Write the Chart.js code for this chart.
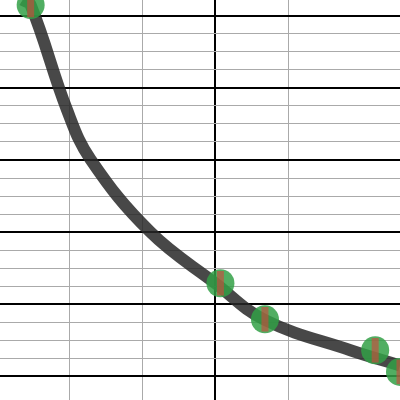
<!DOCTYPE html>
<html>
<head>
<script src="https://cdn.jsdelivr.net/npm/chart.js@4"></script>
<style>html,body{margin:0;padding:0;background:#fff}#c{width:400px;height:400px}</style>
</head>
<body>
<div id="c"><canvas id="chart"></canvas></div>
<script>
// curva
const curvaX = [-2.64, -2.53, -2.03, -1.71, -0.89, 0, 0.68, 1.85, 2.53];
const curvaY = [3.22, 3.15, 1.69, 1.01, 0, -0.71, -1.22, -1.64, -1.85];
// pontos medidos
const pontosX = [-2.53, 0.07, 0.68, 2.19, 2.53];
const pontosY = [3.15, -0.71, -1.21, -1.64, -1.94];
const erro = [0.17, 0.17, 0.17, 0.17, 0.17];

const multiplo = (v, s) => Math.abs(v / s - Math.round(v / s)) < 1e-6;

const barrasErro = {
  id: 'barrasErro',
  afterDatasetsDraw(chart) {
    const { ctx, scales: { x, y } } = chart;
    ctx.save();
    ctx.strokeStyle = 'rgba(210,70,60,0.6)';
    ctx.lineWidth = 7;
    pontosX.forEach((px, i) => {
      ctx.beginPath();
      ctx.moveTo(x.getPixelForValue(px), y.getPixelForValue(pontosY[i] + erro[i]));
      ctx.lineTo(x.getPixelForValue(px), y.getPixelForValue(pontosY[i] - erro[i]));
      ctx.stroke();
    });
    ctx.restore();
  }
};

new Chart(document.getElementById('chart'), {
  type: 'scatter',
  plugins: [barrasErro],
  data: {
    datasets: [
      {
        data: pontosX.map((v, i) => ({ x: v, y: pontosY[i] })),
        pointRadius: 14, pointHoverRadius: 14,
        backgroundColor: 'rgba(50,160,70,0.85)', borderWidth: 0
      },
      {
        type: 'line',
        data: curvaX.map((v, i) => ({ x: v, y: curvaY[i] })),
        borderColor: 'rgba(40,40,40,0.85)', borderWidth: 12,
        pointRadius: 0, tension: 0.4, fill: false
      }
    ]
  },
  options: {
    responsive: true, maintainAspectRatio: false, animation: false,
    layout: { padding: 0, autoPadding: false },
    plugins: { legend: { display: false }, tooltip: { enabled: false } },
    scales: {
      x: {
        type: 'linear', min: -2.95, max: 2.53,
        ticks: { display: false, stepSize: 1 },
        afterBuildTicks: s => { s.ticks = s.ticks.filter(t => multiplo(t.value, 1)); },
        border: { display: false },
        grid: {
          drawTicks: false,
          color: c => c.tick && c.tick.value === 0 ? '#000' : '#aaa',
          lineWidth: c => c.tick && c.tick.value === 0 ? 2 : 1
        }
      },
      y: {
        type: 'linear', min: -2.33, max: 3.22,
        ticks: { display: false, stepSize: 0.25 },
        afterBuildTicks: s => { s.ticks = s.ticks.filter(t => multiplo(t.value, 0.25)); },
        border: { display: false },
        grid: {
          drawTicks: false,
          color: c => c.tick && multiplo(c.tick.value, 1) ? '#000' : '#aaa',
          lineWidth: c => c.tick && multiplo(c.tick.value, 1) ? 2 : 1
        }
      }
    }
  }
});
</script>
</body>
</html>
